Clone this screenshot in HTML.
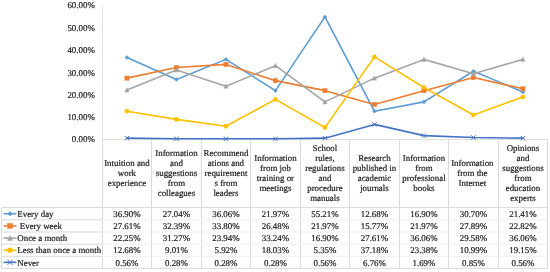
<!DOCTYPE html>
<html><head><meta charset="utf-8"><style>
html,body{margin:0;padding:0;background:#fff;width:550px;height:272px;overflow:hidden}
svg{display:block}
text{font-family:"Liberation Serif","Times New Roman",serif;font-size:8.9px;fill:#222222;stroke:#222222;stroke-width:0.2px;text-rendering:geometricPrecision}
</style></head><body>
<svg width="550" height="272" viewBox="0 0 550 272">
<rect width="550" height="272" fill="#fff"/>
<text x="94.8" y="142.10" text-anchor="end">0.00%</text>
<text x="94.8" y="119.91" text-anchor="end">10.00%</text>
<text x="94.8" y="97.72" text-anchor="end">20.00%</text>
<text x="94.8" y="75.53" text-anchor="end">30.00%</text>
<text x="94.8" y="53.34" text-anchor="end">40.00%</text>
<text x="94.8" y="31.15" text-anchor="end">50.00%</text>
<text x="94.8" y="8.46" text-anchor="end">60.00%</text>
<line x1="102.5" y1="6.26" x2="102.5" y2="139.5" stroke="#E3E3E3" stroke-width="1"/>
<line x1="99.5" y1="139.50" x2="102.5" y2="139.50" stroke="#F0F0F0" stroke-width="1"/>
<line x1="99.5" y1="117.50" x2="102.5" y2="117.50" stroke="#F0F0F0" stroke-width="1"/>
<line x1="99.5" y1="95.50" x2="102.5" y2="95.50" stroke="#F0F0F0" stroke-width="1"/>
<line x1="99.5" y1="72.50" x2="102.5" y2="72.50" stroke="#F0F0F0" stroke-width="1"/>
<line x1="99.5" y1="50.50" x2="102.5" y2="50.50" stroke="#F0F0F0" stroke-width="1"/>
<line x1="99.5" y1="28.50" x2="102.5" y2="28.50" stroke="#F0F0F0" stroke-width="1"/>
<line x1="99.5" y1="6.50" x2="102.5" y2="6.50" stroke="#F0F0F0" stroke-width="1"/>
<line x1="102.5" y1="139.5" x2="547.50" y2="139.5" stroke="#DEDEDE" stroke-width="1"/>
<line x1="102.50" y1="139.00" x2="102.50" y2="268.40" stroke="#D9D9D9" stroke-width="1"/>
<line x1="151.50" y1="139.00" x2="151.50" y2="268.40" stroke="#D9D9D9" stroke-width="1"/>
<line x1="201.50" y1="139.00" x2="201.50" y2="268.40" stroke="#D9D9D9" stroke-width="1"/>
<line x1="250.50" y1="139.00" x2="250.50" y2="268.40" stroke="#D9D9D9" stroke-width="1"/>
<line x1="300.50" y1="139.00" x2="300.50" y2="268.40" stroke="#D9D9D9" stroke-width="1"/>
<line x1="349.50" y1="139.00" x2="349.50" y2="268.40" stroke="#D9D9D9" stroke-width="1"/>
<line x1="399.50" y1="139.00" x2="399.50" y2="268.40" stroke="#D9D9D9" stroke-width="1"/>
<line x1="448.50" y1="139.00" x2="448.50" y2="268.40" stroke="#D9D9D9" stroke-width="1"/>
<line x1="498.50" y1="139.00" x2="498.50" y2="268.40" stroke="#D9D9D9" stroke-width="1"/>
<line x1="547.50" y1="139.00" x2="547.50" y2="268.40" stroke="#D9D9D9" stroke-width="1"/>
<line x1="1.5" y1="207.60" x2="1.5" y2="268.40" stroke="#D9D9D9" stroke-width="1"/>
<line x1="1.5" y1="207.60" x2="547.70" y2="207.60" stroke="#D9D9D9" stroke-width="1"/>
<line x1="1.5" y1="219.80" x2="102.20" y2="219.80" stroke="#D9D9D9" stroke-width="1"/>
<line x1="102.20" y1="219.80" x2="547.70" y2="219.80" stroke="#EFEFEF" stroke-width="1"/>
<line x1="1.5" y1="232.00" x2="102.20" y2="232.00" stroke="#D9D9D9" stroke-width="1"/>
<line x1="102.20" y1="232.00" x2="547.70" y2="232.00" stroke="#EFEFEF" stroke-width="1"/>
<line x1="1.5" y1="244.20" x2="102.20" y2="244.20" stroke="#D9D9D9" stroke-width="1"/>
<line x1="102.20" y1="244.20" x2="547.70" y2="244.20" stroke="#EFEFEF" stroke-width="1"/>
<line x1="1.5" y1="256.30" x2="102.20" y2="256.30" stroke="#D9D9D9" stroke-width="1"/>
<line x1="102.20" y1="256.30" x2="547.70" y2="256.30" stroke="#EFEFEF" stroke-width="1"/>
<line x1="1.5" y1="268.40" x2="547.70" y2="268.40" stroke="#D9D9D9" stroke-width="1"/>
<text x="126.95" y="166.29" text-anchor="middle">Intuition and</text>
<text x="126.95" y="176.19" text-anchor="middle">work</text>
<text x="126.95" y="186.09" text-anchor="middle">experience</text>
<text x="176.45" y="156.39" text-anchor="middle">Information</text>
<text x="176.45" y="166.29" text-anchor="middle">and</text>
<text x="176.45" y="176.19" text-anchor="middle">suggestions</text>
<text x="176.45" y="186.09" text-anchor="middle">from</text>
<text x="176.45" y="195.99" text-anchor="middle">colleagues</text>
<text x="225.95" y="156.39" text-anchor="middle">Recommend</text>
<text x="225.95" y="166.29" text-anchor="middle">ations and</text>
<text x="225.95" y="176.19" text-anchor="middle">requirement</text>
<text x="225.95" y="186.09" text-anchor="middle">s from</text>
<text x="225.95" y="195.99" text-anchor="middle">leaders</text>
<text x="275.45" y="161.34" text-anchor="middle">Information</text>
<text x="275.45" y="171.24" text-anchor="middle">from job</text>
<text x="275.45" y="181.14" text-anchor="middle">training or</text>
<text x="275.45" y="191.04" text-anchor="middle">meetings</text>
<text x="324.95" y="151.44" text-anchor="middle">School</text>
<text x="324.95" y="161.34" text-anchor="middle">rules,</text>
<text x="324.95" y="171.24" text-anchor="middle">regulations</text>
<text x="324.95" y="181.14" text-anchor="middle">and</text>
<text x="324.95" y="191.04" text-anchor="middle">procedure</text>
<text x="324.95" y="200.94" text-anchor="middle">manuals</text>
<text x="374.45" y="161.34" text-anchor="middle">Research</text>
<text x="374.45" y="171.24" text-anchor="middle">published in</text>
<text x="374.45" y="181.14" text-anchor="middle">academic</text>
<text x="374.45" y="191.04" text-anchor="middle">journals</text>
<text x="423.95" y="161.34" text-anchor="middle">Information</text>
<text x="423.95" y="171.24" text-anchor="middle">from</text>
<text x="423.95" y="181.14" text-anchor="middle">professional</text>
<text x="423.95" y="191.04" text-anchor="middle">books</text>
<text x="472.35" y="166.29" text-anchor="middle">Information</text>
<text x="472.35" y="176.19" text-anchor="middle">from the</text>
<text x="472.35" y="186.09" text-anchor="middle">Internet</text>
<text x="522.95" y="151.44" text-anchor="middle">Opinions</text>
<text x="522.95" y="161.34" text-anchor="middle">and</text>
<text x="522.95" y="171.24" text-anchor="middle">suggestions</text>
<text x="522.95" y="181.14" text-anchor="middle">from</text>
<text x="522.95" y="191.04" text-anchor="middle">education</text>
<text x="522.95" y="200.94" text-anchor="middle">experts</text>
<polyline points="126.95,57.52 176.45,79.40 225.95,59.38 275.45,90.65 324.95,16.89 374.45,111.26 423.95,101.90 473.45,71.28 522.95,91.89" fill="none" stroke="#5B9BD5" stroke-width="1.6" stroke-linejoin="round" stroke-linecap="round"/>
<path d="M126.95 55.52L128.95 57.52L126.95 59.52L124.95 57.52Z" fill="#5B9BD5" stroke="#5B9BD5" stroke-width="0.5"/>
<path d="M176.45 77.40L178.45 79.40L176.45 81.40L174.45 79.40Z" fill="#5B9BD5" stroke="#5B9BD5" stroke-width="0.5"/>
<path d="M225.95 57.38L227.95 59.38L225.95 61.38L223.95 59.38Z" fill="#5B9BD5" stroke="#5B9BD5" stroke-width="0.5"/>
<path d="M275.45 88.65L277.45 90.65L275.45 92.65L273.45 90.65Z" fill="#5B9BD5" stroke="#5B9BD5" stroke-width="0.5"/>
<path d="M324.95 14.89L326.95 16.89L324.95 18.89L322.95 16.89Z" fill="#5B9BD5" stroke="#5B9BD5" stroke-width="0.5"/>
<path d="M374.45 109.26L376.45 111.26L374.45 113.26L372.45 111.26Z" fill="#5B9BD5" stroke="#5B9BD5" stroke-width="0.5"/>
<path d="M423.95 99.90L425.95 101.90L423.95 103.90L421.95 101.90Z" fill="#5B9BD5" stroke="#5B9BD5" stroke-width="0.5"/>
<path d="M473.45 69.28L475.45 71.28L473.45 73.28L471.45 71.28Z" fill="#5B9BD5" stroke="#5B9BD5" stroke-width="0.5"/>
<path d="M522.95 89.89L524.95 91.89L522.95 93.89L520.95 91.89Z" fill="#5B9BD5" stroke="#5B9BD5" stroke-width="0.5"/>
<polyline points="126.95,78.13 176.45,67.53 225.95,64.40 275.45,80.64 324.95,90.65 374.45,104.41 423.95,90.65 473.45,77.51 522.95,88.76" fill="none" stroke="#ED7D31" stroke-width="1.6" stroke-linejoin="round" stroke-linecap="round"/>
<rect x="124.85" y="76.03" width="4.20" height="4.20" fill="#ED7D31" stroke="#ED7D31" stroke-width="0.5"/>
<rect x="174.35" y="65.43" width="4.20" height="4.20" fill="#ED7D31" stroke="#ED7D31" stroke-width="0.5"/>
<rect x="223.85" y="62.30" width="4.20" height="4.20" fill="#ED7D31" stroke="#ED7D31" stroke-width="0.5"/>
<rect x="273.35" y="78.54" width="4.20" height="4.20" fill="#ED7D31" stroke="#ED7D31" stroke-width="0.5"/>
<rect x="322.85" y="88.55" width="4.20" height="4.20" fill="#ED7D31" stroke="#ED7D31" stroke-width="0.5"/>
<rect x="372.35" y="102.31" width="4.20" height="4.20" fill="#ED7D31" stroke="#ED7D31" stroke-width="0.5"/>
<rect x="421.85" y="88.55" width="4.20" height="4.20" fill="#ED7D31" stroke="#ED7D31" stroke-width="0.5"/>
<rect x="471.35" y="75.41" width="4.20" height="4.20" fill="#ED7D31" stroke="#ED7D31" stroke-width="0.5"/>
<rect x="520.85" y="86.66" width="4.20" height="4.20" fill="#ED7D31" stroke="#ED7D31" stroke-width="0.5"/>
<polyline points="126.95,90.03 176.45,70.01 225.95,86.28 275.45,65.64 324.95,101.90 374.45,78.13 423.95,59.38 473.45,73.76 522.95,59.38" fill="none" stroke="#A5A5A5" stroke-width="1.6" stroke-linejoin="round" stroke-linecap="round"/>
<path d="M126.95 87.73L129.05 92.03L124.85 92.03Z" fill="#A5A5A5" stroke="#A5A5A5" stroke-width="0.5"/>
<path d="M176.45 67.71L178.55 72.01L174.35 72.01Z" fill="#A5A5A5" stroke="#A5A5A5" stroke-width="0.5"/>
<path d="M225.95 83.98L228.05 88.28L223.85 88.28Z" fill="#A5A5A5" stroke="#A5A5A5" stroke-width="0.5"/>
<path d="M275.45 63.34L277.55 67.64L273.35 67.64Z" fill="#A5A5A5" stroke="#A5A5A5" stroke-width="0.5"/>
<path d="M324.95 99.60L327.05 103.90L322.85 103.90Z" fill="#A5A5A5" stroke="#A5A5A5" stroke-width="0.5"/>
<path d="M374.45 75.83L376.55 80.13L372.35 80.13Z" fill="#A5A5A5" stroke="#A5A5A5" stroke-width="0.5"/>
<path d="M423.95 57.08L426.05 61.38L421.85 61.38Z" fill="#A5A5A5" stroke="#A5A5A5" stroke-width="0.5"/>
<path d="M473.45 71.46L475.55 75.76L471.35 75.76Z" fill="#A5A5A5" stroke="#A5A5A5" stroke-width="0.5"/>
<path d="M522.95 57.08L525.05 61.38L520.85 61.38Z" fill="#A5A5A5" stroke="#A5A5A5" stroke-width="0.5"/>
<polyline points="126.95,111.26 176.45,119.41 225.95,126.26 275.45,99.39 324.95,127.53 374.45,56.90 423.95,87.52 473.45,115.01 522.95,96.91" fill="none" stroke="#FFC000" stroke-width="1.6" stroke-linejoin="round" stroke-linecap="round"/>
<circle cx="126.95" cy="111.26" r="2.15" fill="#FFC000" stroke="#FFC000" stroke-width="0.5"/>
<circle cx="176.45" cy="119.41" r="2.15" fill="#FFC000" stroke="#FFC000" stroke-width="0.5"/>
<circle cx="225.95" cy="126.26" r="2.15" fill="#FFC000" stroke="#FFC000" stroke-width="0.5"/>
<circle cx="275.45" cy="99.39" r="2.15" fill="#FFC000" stroke="#FFC000" stroke-width="0.5"/>
<circle cx="324.95" cy="127.53" r="2.15" fill="#FFC000" stroke="#FFC000" stroke-width="0.5"/>
<circle cx="374.45" cy="56.90" r="2.15" fill="#FFC000" stroke="#FFC000" stroke-width="0.5"/>
<circle cx="423.95" cy="87.52" r="2.15" fill="#FFC000" stroke="#FFC000" stroke-width="0.5"/>
<circle cx="473.45" cy="115.01" r="2.15" fill="#FFC000" stroke="#FFC000" stroke-width="0.5"/>
<circle cx="522.95" cy="96.91" r="2.15" fill="#FFC000" stroke="#FFC000" stroke-width="0.5"/>
<polyline points="126.95,138.16 176.45,138.78 225.95,138.78 275.45,138.78 324.95,138.16 374.45,124.40 423.95,135.65 473.45,137.51 522.95,138.16" fill="none" stroke="#4472C4" stroke-width="1.6" stroke-linejoin="round" stroke-linecap="round"/>
<path d="M124.75 135.96L129.15 140.36M129.15 135.96L124.75 140.36" stroke="#4472C4" stroke-width="1" fill="none"/>
<path d="M174.25 136.58L178.65 140.98M178.65 136.58L174.25 140.98" stroke="#4472C4" stroke-width="1" fill="none"/>
<path d="M223.75 136.58L228.15 140.98M228.15 136.58L223.75 140.98" stroke="#4472C4" stroke-width="1" fill="none"/>
<path d="M273.25 136.58L277.65 140.98M277.65 136.58L273.25 140.98" stroke="#4472C4" stroke-width="1" fill="none"/>
<path d="M322.75 135.96L327.15 140.36M327.15 135.96L322.75 140.36" stroke="#4472C4" stroke-width="1" fill="none"/>
<path d="M372.25 122.20L376.65 126.60M376.65 122.20L372.25 126.60" stroke="#4472C4" stroke-width="1" fill="none"/>
<path d="M421.75 133.45L426.15 137.85M426.15 133.45L421.75 137.85" stroke="#4472C4" stroke-width="1" fill="none"/>
<path d="M471.25 135.31L475.65 139.71M475.65 135.31L471.25 139.71" stroke="#4472C4" stroke-width="1" fill="none"/>
<path d="M520.75 135.96L525.15 140.36M525.15 135.96L520.75 140.36" stroke="#4472C4" stroke-width="1" fill="none"/>
<line x1="3.5" y1="213.70" x2="16.5" y2="213.70" stroke="#5B9BD5" stroke-width="1.6"/>
<path d="M10.00 211.40L12.30 213.70L10.00 216.00L7.70 213.70Z" fill="#5B9BD5" stroke="#5B9BD5" stroke-width="0.5"/>
<text x="17.3" y="216.90">Every day</text>
<text x="126.95" y="216.90" text-anchor="middle">36.90%</text>
<text x="176.45" y="216.90" text-anchor="middle">27.04%</text>
<text x="225.95" y="216.90" text-anchor="middle">36.06%</text>
<text x="275.45" y="216.90" text-anchor="middle">21.97%</text>
<text x="324.95" y="216.90" text-anchor="middle">55.21%</text>
<text x="374.45" y="216.90" text-anchor="middle">12.68%</text>
<text x="423.95" y="216.90" text-anchor="middle">16.90%</text>
<text x="473.45" y="216.90" text-anchor="middle">30.70%</text>
<text x="522.95" y="216.90" text-anchor="middle">21.41%</text>
<line x1="3.5" y1="225.90" x2="16.5" y2="225.90" stroke="#ED7D31" stroke-width="1.6"/>
<rect x="7.58" y="223.49" width="4.83" height="4.83" fill="#ED7D31" stroke="#ED7D31" stroke-width="0.5"/>
<text x="19.8" y="229.10">Every week</text>
<text x="126.95" y="229.10" text-anchor="middle">27.61%</text>
<text x="176.45" y="229.10" text-anchor="middle">32.39%</text>
<text x="225.95" y="229.10" text-anchor="middle">33.80%</text>
<text x="275.45" y="229.10" text-anchor="middle">26.48%</text>
<text x="324.95" y="229.10" text-anchor="middle">21.97%</text>
<text x="374.45" y="229.10" text-anchor="middle">15.77%</text>
<text x="423.95" y="229.10" text-anchor="middle">21.97%</text>
<text x="473.45" y="229.10" text-anchor="middle">27.89%</text>
<text x="522.95" y="229.10" text-anchor="middle">22.82%</text>
<line x1="3.5" y1="238.10" x2="16.5" y2="238.10" stroke="#A5A5A5" stroke-width="1.6"/>
<path d="M10.00 235.45L12.41 240.40L7.58 240.40Z" fill="#A5A5A5" stroke="#A5A5A5" stroke-width="0.5"/>
<text x="17.3" y="241.30">Once a month</text>
<text x="126.95" y="241.30" text-anchor="middle">22.25%</text>
<text x="176.45" y="241.30" text-anchor="middle">31.27%</text>
<text x="225.95" y="241.30" text-anchor="middle">23.94%</text>
<text x="275.45" y="241.30" text-anchor="middle">33.24%</text>
<text x="324.95" y="241.30" text-anchor="middle">16.90%</text>
<text x="374.45" y="241.30" text-anchor="middle">27.61%</text>
<text x="423.95" y="241.30" text-anchor="middle">36.06%</text>
<text x="473.45" y="241.30" text-anchor="middle">29.58%</text>
<text x="522.95" y="241.30" text-anchor="middle">36.06%</text>
<line x1="3.5" y1="250.25" x2="16.5" y2="250.25" stroke="#FFC000" stroke-width="1.6"/>
<circle cx="10.00" cy="250.25" r="2.47" fill="#FFC000" stroke="#FFC000" stroke-width="0.5"/>
<text x="17.3" y="253.45">Less than once a month</text>
<text x="126.95" y="253.45" text-anchor="middle">12.68%</text>
<text x="176.45" y="253.45" text-anchor="middle">9.01%</text>
<text x="225.95" y="253.45" text-anchor="middle">5.92%</text>
<text x="275.45" y="253.45" text-anchor="middle">18.03%</text>
<text x="324.95" y="253.45" text-anchor="middle">5.35%</text>
<text x="374.45" y="253.45" text-anchor="middle">37.18%</text>
<text x="423.95" y="253.45" text-anchor="middle">23.38%</text>
<text x="473.45" y="253.45" text-anchor="middle">10.99%</text>
<text x="522.95" y="253.45" text-anchor="middle">19.15%</text>
<line x1="3.5" y1="262.35" x2="16.5" y2="262.35" stroke="#4472C4" stroke-width="1.6"/>
<path d="M7.47 259.82L12.53 264.88M12.53 259.82L7.47 264.88" stroke="#4472C4" stroke-width="1" fill="none"/>
<text x="17.3" y="265.55">Never</text>
<text x="126.95" y="265.55" text-anchor="middle">0.56%</text>
<text x="176.45" y="265.55" text-anchor="middle">0.28%</text>
<text x="225.95" y="265.55" text-anchor="middle">0.28%</text>
<text x="275.45" y="265.55" text-anchor="middle">0.28%</text>
<text x="324.95" y="265.55" text-anchor="middle">0.56%</text>
<text x="374.45" y="265.55" text-anchor="middle">6.76%</text>
<text x="423.95" y="265.55" text-anchor="middle">1.69%</text>
<text x="473.45" y="265.55" text-anchor="middle">0.85%</text>
<text x="522.95" y="265.55" text-anchor="middle">0.56%</text>
</svg>
</body></html>
